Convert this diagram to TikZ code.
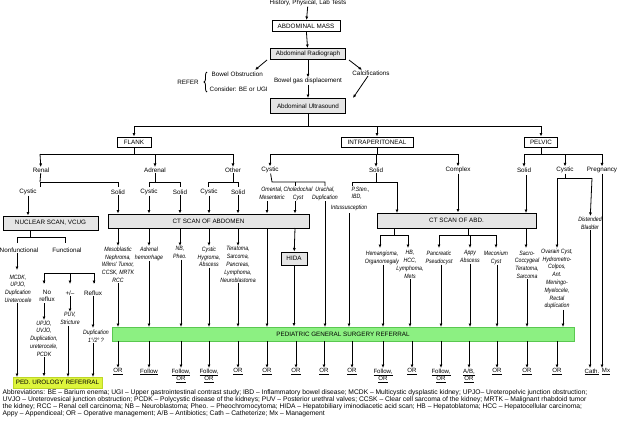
\documentclass[tikz,border=0pt]{standalone}
\usepackage{fontspec}
\setmainfont{Liberation Sans}
\newfontfamily\narrowit[FakeStretch=0.84]{Liberation Sans}
\usetikzlibrary{arrows.meta,decorations.pathreplacing}
\definecolor{gfill}{RGB}{140,240,130}
\definecolor{gline}{RGB}{90,200,80}
\definecolor{yfill}{RGB}{222,245,60}
\definecolor{yline}{RGB}{190,215,40}
\begin{document}
\begin{tikzpicture}[x=1pt,y=-1pt,
  every node/.style={inner sep=0.5pt,font=\fontsize{6.3}{7}\selectfont},
  bx/.style={draw,line width=1pt,minimum height=11pt,inner sep=1.5pt},
  gbx/.style={bx,fill=gray!20},
  lab/.style={align=center},
  itl/.style={align=center,font=\narrowit\fontsize{6.2}{7.8}\selectfont\itshape,anchor=north},
  arr/.style={line width=0.8pt,-{Latex[length=3.5pt,width=3pt]}},
  ln/.style={line width=0.8pt},
  res/.style={align=center,anchor=north,font=\fontsize{6.1}{7.5}\selectfont}]
\useasboundingbox (0,0) rectangle (617,421);
% top
\node (hist) at (308,3) {History, Physical, Lab Tests};
\node[bx,minimum width=68pt] (mass) at (306,26) {ABDOMINAL MASS};
\node[gbx,minimum width=75pt] (radio) at (308,54) {Abdominal Radiograph};
\node[gbx,minimum width=75pt,minimum height=15pt] (ultra) at (308,106) {Abdominal Ultrasound};
\node[anchor=west] (bo) at (211,74) {Bowel Obstruction};
\node[anchor=west] (cons) at (209,89) {Consider: BE or UGI};
\node (refer) at (188,82) {REFER};
\node (gas) at (308,81) {Bowel gas displacement};
\node (calc) at (371,73) {Calcifications};
\draw[decorate,decoration={brace,amplitude=3pt},line width=0.8pt] (207,92) -- (207,72);
\draw[arr] (hist) -- (mass);
\draw[arr] (mass) -- (radio);
\coordinate (bl) at (255,70);
\coordinate (br) at (362,70);
\draw[arr] ([xshift=-3pt]radio.south west) -- (bl);
\draw[arr] ([xshift=3pt]radio.south east) -- (br);
\draw[arr] (radio) -- (gas);
\draw[arr] (gas) -- (ultra);
\draw[arr] ([xshift=-3pt]calc.south) -- ([xshift=7pt]ultra.north east);
% level 1
\node[bx,minimum width=34pt,minimum height=10pt] (flank) at (134,142) {FLANK};
\node[bx,minimum width=72pt,minimum height=10pt] (intra) at (377,142) {INTRAPERITONEAL};
\node[bx,minimum width=33pt,minimum height=10pt] (pelvic) at (541,142) {PELVIC};
\coordinate (hc) at (308,126);
\draw[ln] (ultra) -- (hc);
\draw[ln] (134,126) -- (542,126);
\draw[arr] (134,126) -- (flank);
\draw[arr] (377,126) -- (intra);
\draw[arr] (541,126) -- (pelvic);
% level 2
\node (renal) at (41,170) {Renal};
\node (adrenal) at (155,170) {Adrenal};
\node (other) at (233,170) {Other};
\node (ipc) at (270,170) {Cystic};
\node (ips) at (376,170) {Solid};
\node (ipx) at (458,170) {Complex};
\node (pes) at (524,170) {Solid};
\node (pec) at (565,170) {Cystic};
\node (pep) at (602,170) {Pregnancy};
\draw[ln] (flank) -- (134,154);
\draw[ln] (40,154) -- (233,154);
\draw[arr] (40,154) -- (renal);
\draw[arr] (155,154) -- (adrenal);
\draw[arr] (233,154) -- (other);
\draw[ln] (intra) -- (377,154);
\draw[ln] (270,154) -- (458,154);
\draw[arr] (270,154) -- (ipc);
\draw[arr] (376,154) -- (ips);
\draw[arr] (458,154) -- (ipx);
\draw[ln] (pelvic) -- (541,154);
\draw[ln] (524,154) -- (602,154);
\draw[arr] (524,154) -- (pes);
\draw[arr] (565,154) -- (pec);
\draw[arr] (602,154) -- (pep);
% level 3
\node (rc) at (28,192) {Cystic};
\node (rs) at (118,192) {Solid};
\node (ac) at (149,192) {Cystic};
\node (as) at (180,192) {Solid};
\node (oc) at (209,192) {Cystic};
\node (os) at (238,192) {Solid};
\draw[ln] (renal) -- (40,182);
\draw[ln] (40,187) -- (40,182) -- (118,182) -- (118,187);
\draw[ln] (adrenal) -- (155,182);
\draw[ln] (149,187) -- (149,182) -- (180,182) -- (180,187);
\draw[ln] (other) -- (233,182);
\draw[ln] (208,187) -- (208,182) -- (238,182) -- (238,187);
\node[itl] (omen) at (272,186) {Omental,\\Mesenteric};
\node[itl] (chol) at (298,186) {Choledochal\\Cyst};
\node[itl] (urac) at (325,186) {Urachal,\\Duplication};
\draw[ln] (ipc) -- (272,182) -- (325,182) -- (325,186);
\draw[ln] (295,182) -- (295,186);
\node[itl,align=left,anchor=north west] (psten) at (351,186) {P.Sten.,\\IBD,};
\node[font=\narrowit\fontsize{6.2}{7}\selectfont\itshape] (intus) at (349,208) {Intussusception};
\draw[ln] (ips) -- (376,182);
\draw[ln] (352,186) -- (352,182) -- (397,182);
% CT boxes
\node[gbx,minimum width=201pt,minimum height=14pt] (ct) at (208.5,221) {CT SCAN OF ABDOMEN};
\node[gbx,minimum width=95pt,minimum height=14pt] (nuc) at (50.5,223) {NUCLEAR SCAN, VCUG};
\node[gbx,minimum width=159pt,minimum height=15pt] (ctabd) at (456.5,220.5) {CT SCAN OF ABD.};
\foreach \n/\x in {rs/118,ac/149,as/180,oc/209,os/238}{\draw[arr] (\n.south -| \x,0) -- (\x,213.5);}
\draw[arr] (rc) -- (rc |- nuc.north);
\draw[arr] (267,201) -- (267,213.5);
\draw[arr] (295,201) -- (295,213.5);
\draw[arr] (397,182) -- (397,213);
\draw[arr] (ipx) -- (ipx |- ctabd.north);
\draw[arr] (526,175) -- (526,213);
% pelvic cystic
\node[itl] (ovar) at (557,248) {Ovarain Cyst,\\Hydrometro-\\Colpos,\\Ant.\\Meningo-\\Myelocele,\\Rectal\\duplication};
\node[itl] (dist) at (590,216) {Distended\\Bladder};
\draw[ln] (pec) -- (565,178);
\draw[ln] (557,178) -- (592,178);
\draw[arr] (557,178) -- (ovar);
\draw[arr] (592,178) -- (dist);
% CT abdomen children
\node[itl] (meso) at (118,246) {Mesoblastic\\Nephroma,\\Wilms' Tumor,\\CCSK, MRTK\\RCC};
\node[itl] (adh) at (149,246) {Adrenal\\hemorrhage};
\node[itl] (nb) at (180,246) {NB,\\Pheo.};
\node[itl] (hyg) at (209,246) {Cystic\\Hygroma,\\Abscess};
\node[itl] (tera) at (238,246) {Teratoma,\\Sarcoma,\\Pancreas,\\Lymphoma,\\Neuroblastoma};
\foreach \n/\x in {meso/118,adh/149,nb/180,hyg/209,tera/238}{\draw[arr] (\x,228) -- (\n.north -| \x,0);}
\node[gbx,minimum width=26pt,minimum height=13pt] (hida) at (294,258.5) {HIDA};
\draw[arr] (295,228) -- (hida);
% CT ABD children
\node[itl] (hem) at (382,250) {Hemangioma,\\Organomegaly};
\node[itl] (hb) at (410,250) {HB,\\HCC,\\Lymphoma,\\Mets};
\node[itl] (panc) at (439,250) {Pancreatic\\Pseudocyst};
\node[itl] (appy) at (470,250) {Appy\\Abscess};
\node[itl] (mec) at (496,250) {Meconium\\Cyst};
\node[itl] (sacro) at (527,250) {Sacro-\\Coccygeal\\Teratoma,\\Sarcoma};
\draw[ln] (394,228) -- (394,235);
\draw[ln] (380,235) -- (408,235);
\draw[arr] (380,235) -- (380,248);
\draw[arr] (408,235) -- (408,248);
\draw[ln] (468,228) -- (468,235);
\draw[ln] (439,235) -- (496,235);
\foreach \x in {439,470,496}{\draw[arr] (\x,235) -- (\x,248);}
\draw[arr] (526,228) -- (526,248);
% green box
\node[draw=gline,line width=1pt,fill=gfill,minimum width=462pt,minimum height=14pt] (peds) at (343,334) {PEDIATRIC GENERAL SURGERY REFERRAL};
\draw[arr] (meso.south -| 118,0) -- (118,327);
\draw[arr] (adh.south -| 149,0) -- (149,327);
\draw[arr] (nb.south -| 181,0) -- (181,327);
\draw[arr] (hyg.south -| 209,0) -- (209,327);
\draw[arr] (tera.south -| 238,0) -- (238,327);
\draw[arr] (267,228) -- (267,327);
\draw[arr] (hida) -- (hida |- peds.north);
\draw[arr] (325,201) -- (325,327);
\draw[arr] (349,213) -- (349,327);
\draw[arr] (hem.south -| 383,0) -- (383,327);
\draw[arr] (hb.south -| 410,0) -- (410,327);
\draw[arr] (panc.south -| 441,0) -- (441,327);
\draw[arr] (appy.south -| 470,0) -- (470,327);
\draw[arr] (mec.south -| 497,0) -- (497,327);
\draw[arr] (sacro.south -| 527,0) -- (527,327);
\draw[arr] (ovar.south -| 563,0) -- (563,327);
% outcomes
\foreach \x/\t in {118/{\underline{OR}},149/{\underline{Follow}},181/{\underline{Follow,}\\\underline{OR}},209/{\underline{Follow,}\\\underline{OR}},238/{\underline{OR}},267/{\underline{OR}},296/{\underline{OR}},324/{\underline{OR}},352/{\underline{OR}},383/{\underline{Follow,}\\\underline{OR}},412/{\underline{OR}},441/{\underline{Follow,}\\\underline{OR}},469/{\underline{A/B,}\\\underline{OR}},497/{\underline{OR}},527/{\underline{OR}},557/{\underline{OR}}}{
  \node[res] (o\x) at (\x,368) {\t};
  \draw[arr] (\x,341) -- (o\x);}
\node[res] (cath) at (592,368) {\underline{Cath.}};
\node[res] (mx) at (606,368) {\underline{Mx}};
\draw[arr] (dist.south -| 590,0) -- (cath.north -| 590,0);
\draw[arr] (pep) -- (pep.south |- mx.north);
% nuclear side
\node (nonf) at (19,250) {Nonfunctional};
\node (func) at (67,250) {Functional};
\draw[ln] (30,230) -- (30,237);
\draw[ln] (17,243) -- (17,237) -- (65,237) -- (65,243);
\node[itl] (mcdk) at (18,274) {MCDK,\\UPJO,\\Duplication\\Ureterocele};
\draw[arr] (nonf) -- (nonf.south -| 17,0) -- (17,270);
\node[lab] (nor) at (47,296) {No\\reflux};
\node (pm) at (70,293) {+/--};
\node (refl) at (93,293) {Reflux};
\draw[ln] (44,283) -- (44,273) -- (94,273) -- (94,283);
\draw[arr] (44,273) -- (44,284);
\draw[arr] (70,273) -- (70,284);
\draw[arr] (94,273) -- (94,284);
\node[itl] (upjo) at (44,320) {UPJO,\\UVJO,\\Duplication,\\ureterocele,\\PCDK};
\node[itl] (puv) at (70,312) {PUV,\\Stricture};
\node[itl] (dup) at (96,329) {Duplication\\1°/2° ?};
\draw[arr] (44,303) -- (upjo);
\draw[arr] (pm) -- (puv);
\draw[arr] (refl.south -| 93,0) -- (93,328);
\node[draw=yline,line width=1pt,fill=yfill,minimum width=89pt,minimum height=11pt] (uro) at (57.5,382.5) {PED. UROLOGY REFERRAL};
\draw[arr] (mcdk.south -| 17,0) -- (17,377);
\draw[arr] (upjo) -- (upjo.south |- uro.north);
\draw[arr] (puv.south -| 68,0) -- (68,377);
\draw[arr] (dup.south -| 93,0) -- (93,377);
% abbreviations
\node[anchor=north west,align=left,font=\fontsize{6.7}{7.3}\selectfont] (abbr) at (2,388.5) {Abbreviations: BE -- Barium enema; UGI -- Upper gastrointestinal contrast study; IBD -- Inflammatory bowel disease; MCDK -- Multicystic dysplastic kidney; UPJO-- Ureteropelvic junction obstruction;\\
UVJO -- Ureterovesical junction obstruction; PCDK -- Polycystic disease of the kidneys; PUV -- Posterior urethral valves; CCSK -- Clear cell sarcoma of the kidney; MRTK -- Malignant rhabdoid tumor\\
the kidney; RCC -- Renal cell carcinoma; NB -- Neuroblastoma; Pheo. -- Pheochromocytoma; HIDA -- Hepatobiliary iminodiacetic acid scan; HB -- Hepatoblatoma; HCC -- Hepatocellular carcinoma;\\
Appy -- Appendiceal; OR -- Operative management; A/B -- Antibiotics; Cath -- Catheterize; Mx -- Management};
\end{tikzpicture}
\end{document}
